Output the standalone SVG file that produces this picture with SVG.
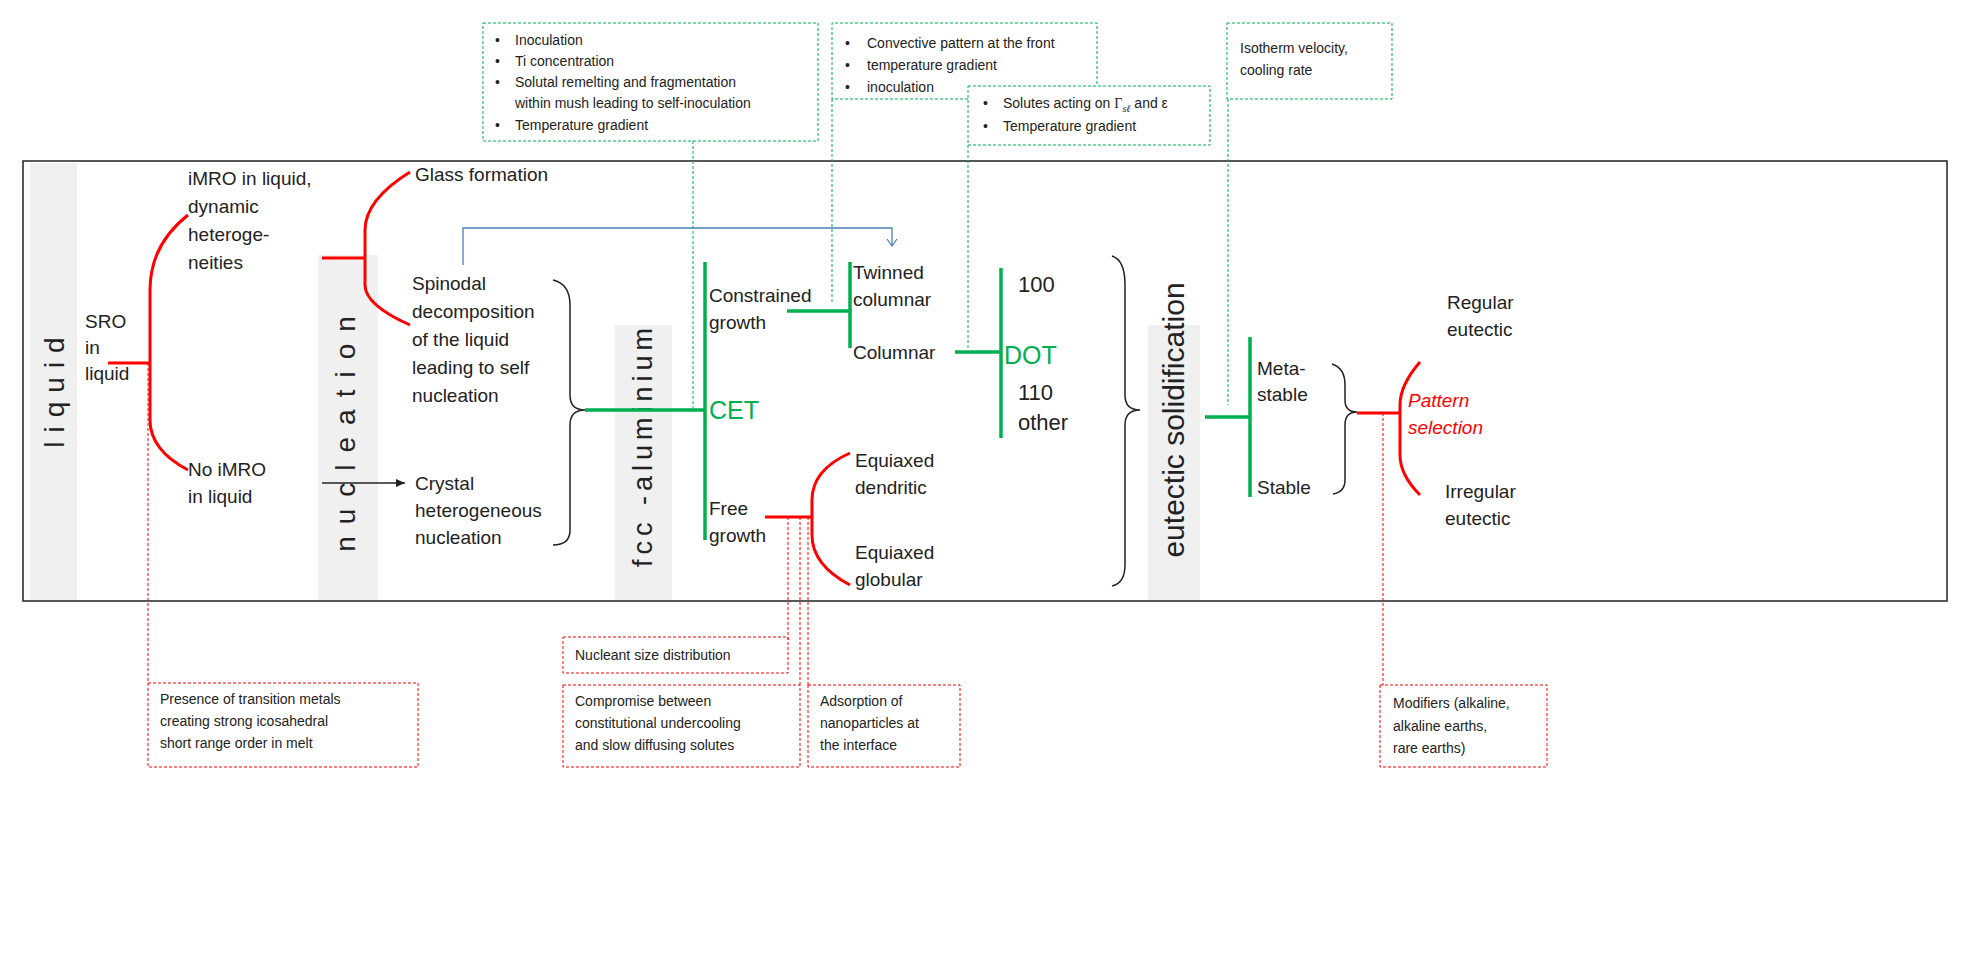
<svg xmlns="http://www.w3.org/2000/svg" width="1976" height="975" viewBox="0 0 1976 975">
<style>
text{font-family:"Liberation Sans",Arial,sans-serif;fill:#222;}
.t{font-size:19px;}
.s{font-size:14px;}
.band{fill:#f0f0f0;}
.vt{font-size:28px;letter-spacing:9px;}
.red{stroke:#ff0000;stroke-width:3;fill:none;}
.grn{stroke:#00b050;stroke-width:3.5;fill:none;}
.blk{stroke:#222;stroke-width:1.5;fill:none;}
.gd{stroke:#00b050;stroke-width:1;stroke-dasharray:3,2;fill:none;}
.rd{stroke:#ff0000;stroke-width:1;stroke-dasharray:3,2;fill:none;}
.g{fill:#00b050;}
</style>
<defs>
<marker id="ab" markerWidth="10" markerHeight="10" refX="9" refY="5" orient="auto" markerUnits="userSpaceOnUse"><path d="M0,1 L9,5 L0,9 Z" fill="#222"/></marker>
<marker id="abl" markerWidth="12" markerHeight="12" refX="6" refY="11" orient="0" markerUnits="userSpaceOnUse"><path d="M1,4 L6,11 L11,4" fill="none" stroke="#4a7fb5" stroke-width="1.2"/></marker>
</defs>
<rect width="1976" height="975" fill="#fff"/>
<g id="frame">
<rect x="30" y="163" width="47" height="437" class="band"/>
<rect x="318" y="255" width="60" height="345" class="band"/>
<rect x="615" y="325" width="57" height="275" class="band"/>
<rect x="1148" y="325" width="52" height="275" class="band"/>
<rect x="23" y="161" width="1924" height="440" fill="none" stroke="#222" stroke-width="1.5"/>
<text class="vt" transform="translate(64,388) rotate(-90)" text-anchor="middle">liquid</text>
<text class="vt" transform="translate(355,428) rotate(-90)" text-anchor="middle" style="letter-spacing:12px">nucleation</text>
<text transform="translate(652,445) rotate(-90)" text-anchor="middle" style="font-size:27px;letter-spacing:5px">fcc -aluminium</text>
<text transform="translate(1184,420) rotate(-90)" text-anchor="middle" style="font-size:30px">eutectic solidification</text>
</g>
<g id="connectors">
<path class="red" d="M108,363 H150"/>
<path class="red" d="M188,215 Q150,245 150,290 L150,345 Q150,363 150,363 L150,420 Q150,450 188,470"/>
<path class="red" d="M322,258 H365"/>
<path class="red" d="M410,172 Q365,200 365,230 L365,285 Q365,305 410,325"/>
<path d="M322,483 H405" stroke="#222" stroke-width="1.5" marker-end="url(#ab)"/>
<path d="M463,265 V228 H892 V246" stroke="#4a7fb5" stroke-width="1.3" fill="none" marker-end="url(#abl)"/>
<path class="blk" d="M553,280 Q570,284 570,305 L570,395 Q570,410 585,410 Q570,410 570,425 L570,530 Q570,545 553,545"/>
<path class="grn" d="M585,410 H705"/>
<path class="grn" d="M705,262 V540"/>
<path class="grn" d="M787,311 H850"/>
<path class="grn" d="M850,262 V348"/>
<path class="grn" d="M955,352 H1001"/>
<path class="grn" d="M1001,268 V438"/>
<path class="blk" d="M1112,256 Q1125,260 1125,285 L1125,395 Q1125,410 1140,410 Q1125,410 1125,425 L1125,565 Q1125,583 1112,586"/>
<path class="grn" d="M1205,417 H1250"/>
<path class="grn" d="M1250,337 V497"/>
<path class="blk" d="M1332,364 Q1345,368 1345,385 L1345,400 Q1345,412 1357,412 Q1345,412 1345,425 L1345,480 Q1345,492 1333,494"/>
<path class="red" d="M1357,413 H1400"/>
<path class="red" d="M1420,362 Q1400,385 1400,405 L1400,455 Q1400,475 1420,495"/>
<path class="red" d="M765,517 H812"/>
<path class="red" d="M850,453 Q812,470 812,500 L812,535 Q812,565 850,585"/>
<path class="gd" d="M693,141 V410"/>
<path class="gd" d="M832,99 V302"/>
<path class="gd" d="M968,145 V350"/>
<path class="gd" d="M1228,99 V405"/>
<path class="rd" d="M148,363 V683"/>
<path class="rd" d="M788,517 V640"/>
<path class="rd" d="M800,517 V685"/>
<path class="rd" d="M808,517 V685"/>
<path class="rd" d="M1383,413 V685"/>
</g>
<g id="n-sro"><text class="t" x="85" y="328">SRO</text><text class="t" x="85" y="354">in</text><text class="t" x="85" y="380">liquid</text></g>
<g id="n-imro"><text class="t" x="188" y="185">iMRO in liquid,</text><text class="t" x="188" y="213">dynamic</text><text class="t" x="188" y="241">heteroge-</text><text class="t" x="188" y="269">neities</text></g>
<g id="n-noimro"><text class="t" x="188" y="476">No iMRO</text><text class="t" x="188" y="503">in liquid</text></g>
<g id="n-glass"><text class="t" x="415" y="181">Glass formation</text></g>
<g id="n-spinodal"><text class="t" x="412" y="290">Spinodal</text><text class="t" x="412" y="318">decomposition</text><text class="t" x="412" y="346">of the liquid</text><text class="t" x="412" y="374">leading to self</text><text class="t" x="412" y="402">nucleation</text></g>
<g id="n-crystal"><text class="t" x="415" y="490">Crystal</text><text class="t" x="415" y="517">heterogeneous</text><text class="t" x="415" y="544">nucleation</text></g>
<g id="n-cet"><text x="709" y="419" style="font-size:25px" class="g">CET</text></g>
<g id="n-constrained"><text class="t" x="709" y="302">Constrained</text><text class="t" x="709" y="329">growth</text></g>
<g id="n-free"><text class="t" x="709" y="515">Free</text><text class="t" x="709" y="542">growth</text></g>
<g id="n-twinned"><text class="t" x="853" y="279">Twinned</text><text class="t" x="853" y="306">columnar</text></g>
<g id="n-columnar"><text class="t" x="853" y="359">Columnar</text></g>
<g id="n-dot"><text x="1004" y="364" style="font-size:25px" class="g">DOT</text></g>
<g id="n-100"><text x="1018" y="292" style="font-size:22px">100</text></g>
<g id="n-110"><text x="1018" y="400" style="font-size:22px">110</text><text x="1018" y="430" style="font-size:22px">other</text></g>
<g id="n-eqd"><text class="t" x="855" y="467">Equiaxed</text><text class="t" x="855" y="494">dendritic</text></g>
<g id="n-eqg"><text class="t" x="855" y="559">Equiaxed</text><text class="t" x="855" y="586">globular</text></g>
<g id="n-meta"><text class="t" x="1257" y="375">Meta-</text><text class="t" x="1257" y="401">stable</text></g>
<g id="n-stable"><text class="t" x="1257" y="494">Stable</text></g>
<g id="n-pattern"><text class="t" x="1408" y="407" style="fill:#ff0000;font-style:italic">Pattern</text><text class="t" x="1408" y="434" style="fill:#ff0000;font-style:italic">selection</text></g>
<g id="n-regular"><text class="t" x="1447" y="309">Regular</text><text class="t" x="1447" y="336">eutectic</text></g>
<g id="n-irregular"><text class="t" x="1445" y="498">Irregular</text><text class="t" x="1445" y="525">eutectic</text></g>
<g id="n-box1">
<rect x="483" y="23" width="335" height="118" class="gd"/>
<text class="s" x="495" y="45">•</text><text class="s" x="515" y="45">Inoculation</text>
<text class="s" x="495" y="66">•</text><text class="s" x="515" y="66">Ti concentration</text>
<text class="s" x="495" y="87">•</text><text class="s" x="515" y="87">Solutal remelting and fragmentation</text>
<text class="s" x="515" y="108">within mush leading to self-inoculation</text>
<text class="s" x="495" y="130">•</text><text class="s" x="515" y="130">Temperature gradient</text>
</g>
<g id="n-box2">
<path class="gd" d="M968,99 H832 V23 H1097 V86"/>
<text class="s" x="845" y="48">•</text><text class="s" x="867" y="48">Convective pattern at the front</text>
<text class="s" x="845" y="70">•</text><text class="s" x="867" y="70">temperature gradient</text>
<text class="s" x="845" y="92">•</text><text class="s" x="867" y="92">inoculation</text>
</g>
<g id="n-box3">
<rect x="968" y="86" width="242" height="59" class="gd"/>
<text class="s" x="983" y="108">•</text><text class="s" x="1003" y="108">Solutes acting on <tspan font-family="Liberation Serif">Γ</tspan><tspan font-family="Liberation Serif" font-style="italic" font-size="10" dy="4">sℓ</tspan><tspan dy="-4"> and ε</tspan></text>
<text class="s" x="983" y="131">•</text><text class="s" x="1003" y="131">Temperature gradient</text>
</g>
<g id="n-box4">
<rect x="1227" y="23" width="165" height="76" class="gd"/>
<text class="s" x="1240" y="53">Isotherm velocity,</text>
<text class="s" x="1240" y="75">cooling rate</text>
</g>
<g id="n-box5">
<rect x="148" y="683" width="270" height="84" class="rd"/>
<text class="s" x="160" y="704">Presence of transition metals</text>
<text class="s" x="160" y="726">creating strong icosahedral</text>
<text class="s" x="160" y="748">short range order in melt</text>
</g>
<g id="n-box6">
<rect x="563" y="637" width="225" height="36" class="rd"/>
<text class="s" x="575" y="660">Nucleant size distribution</text>
</g>
<g id="n-box7">
<rect x="563" y="685" width="237" height="82" class="rd"/>
<text class="s" x="575" y="706">Compromise between</text>
<text class="s" x="575" y="728">constitutional undercooling</text>
<text class="s" x="575" y="750">and slow diffusing solutes</text>
</g>
<g id="n-box8">
<rect x="808" y="685" width="152" height="82" class="rd"/>
<text class="s" x="820" y="706">Adsorption of</text>
<text class="s" x="820" y="728">nanoparticles at</text>
<text class="s" x="820" y="750">the interface</text>
</g>
<g id="n-box9">
<rect x="1380" y="685" width="167" height="82" class="rd"/>
<text class="s" x="1393" y="708">Modifiers (alkaline,</text>
<text class="s" x="1393" y="731">alkaline earths,</text>
<text class="s" x="1393" y="753">rare earths)</text>
</g>
</svg>
